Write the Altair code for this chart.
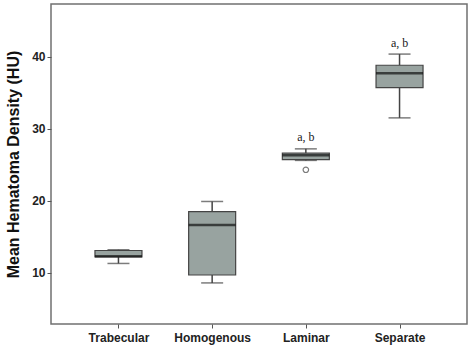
import altair as alt
import pandas as pd

categories = ["Trabecular", "Homogenous", "Laminar", "Separate"]
lower = [11.3, 8.6, 25.6, 31.5]
q1 = [12.2, 9.7, 25.7, 35.7]
median = [12.3, 16.65, 26.3, 37.7]
q3 = [13.1, 18.5, 26.6, 38.8]
upper = [13.2, 19.9, 27.2, 40.35]

outlier_cat = ["Laminar"]
outlier_val = [24.3]

label_cat = ["Laminar", "Separate"]
label_val = [28.3, 41.3]
label_text = ["a, b", "a, b"]

df = pd.DataFrame({"cat": categories, "lower": lower, "q1": q1,
                   "median": median, "q3": q3, "upper": upper})
df_out = pd.DataFrame({"cat": outlier_cat, "val": outlier_val})
df_lab = pd.DataFrame({"cat": label_cat, "val": label_val, "text": label_text})

xenc = alt.X("cat:N", sort=categories, title=None,
             scale=alt.Scale(type="point", padding=0.72),
             axis=alt.Axis(labelAngle=0, labelFont="Liberation Sans", labelFontSize=12,
                           labelFontWeight="bold", labelColor="#222", tickColor="#555",
                           tickSize=4, labelPadding=4, domain=False))
yscale = alt.Scale(domain=[2.9, 47.3], nice=False, zero=False)
yaxis = alt.Axis(values=[10, 20, 30, 40], title="Mean Hematoma Density (HU)",
                 titleFont="Liberation Sans", titleFontSize=16, titleFontWeight="bold",
                 titleColor="#111", titlePadding=10,
                 labelFont="Liberation Sans", labelFontSize=12, labelFontWeight="bold",
                 labelColor="#222", tickColor="#555", tickSize=4, labelPadding=2,
                 grid=False, domain=False)

base = alt.Chart(df)

whisk_lo = base.mark_rule(color="#444", strokeWidth=1.5).encode(
    x=xenc, y=alt.Y("lower:Q", scale=yscale, axis=yaxis), y2="q1:Q")
whisk_hi = base.mark_rule(color="#444", strokeWidth=1.5).encode(
    x=xenc, y=alt.Y("q3:Q", scale=yscale), y2="upper:Q")
box = base.mark_bar(size=47, color="#98a3a0", stroke="#444", strokeWidth=1.2).encode(
    x=xenc, y=alt.Y("q1:Q", scale=yscale), y2="q3:Q")
med = base.mark_tick(size=47, thickness=2.5, color="#111").encode(
    x=xenc, y=alt.Y("median:Q", scale=yscale))
cap_lo = base.mark_tick(size=22, thickness=1.5, color="#444").encode(
    x=xenc, y=alt.Y("lower:Q", scale=yscale))
cap_hi = base.mark_tick(size=22, thickness=1.5, color="#444").encode(
    x=xenc, y=alt.Y("upper:Q", scale=yscale))
outl = alt.Chart(df_out).mark_point(shape="circle", size=30, filled=False,
                                     color="#444", strokeWidth=1.2).encode(
    x=xenc, y=alt.Y("val:Q", scale=yscale))
labels = alt.Chart(df_lab).mark_text(font="Liberation Serif", fontSize=12,
                                      baseline="alphabetic", color="#222").encode(
    x=xenc, y=alt.Y("val:Q", scale=yscale), text="text:N")

chart = alt.layer(whisk_lo, whisk_hi, box, med, cap_lo, cap_hi, outl, labels).properties(
    width=416, height=320,
    autosize=alt.AutoSizeParams(type="none"),
    padding={"left": 51, "top": 4, "right": 7, "bottom": 31},
    background="white",
).configure_view(stroke="#707070", strokeWidth=1.5)

chart.save("out.html", embed_options={"renderer": "svg", "actions": False})
